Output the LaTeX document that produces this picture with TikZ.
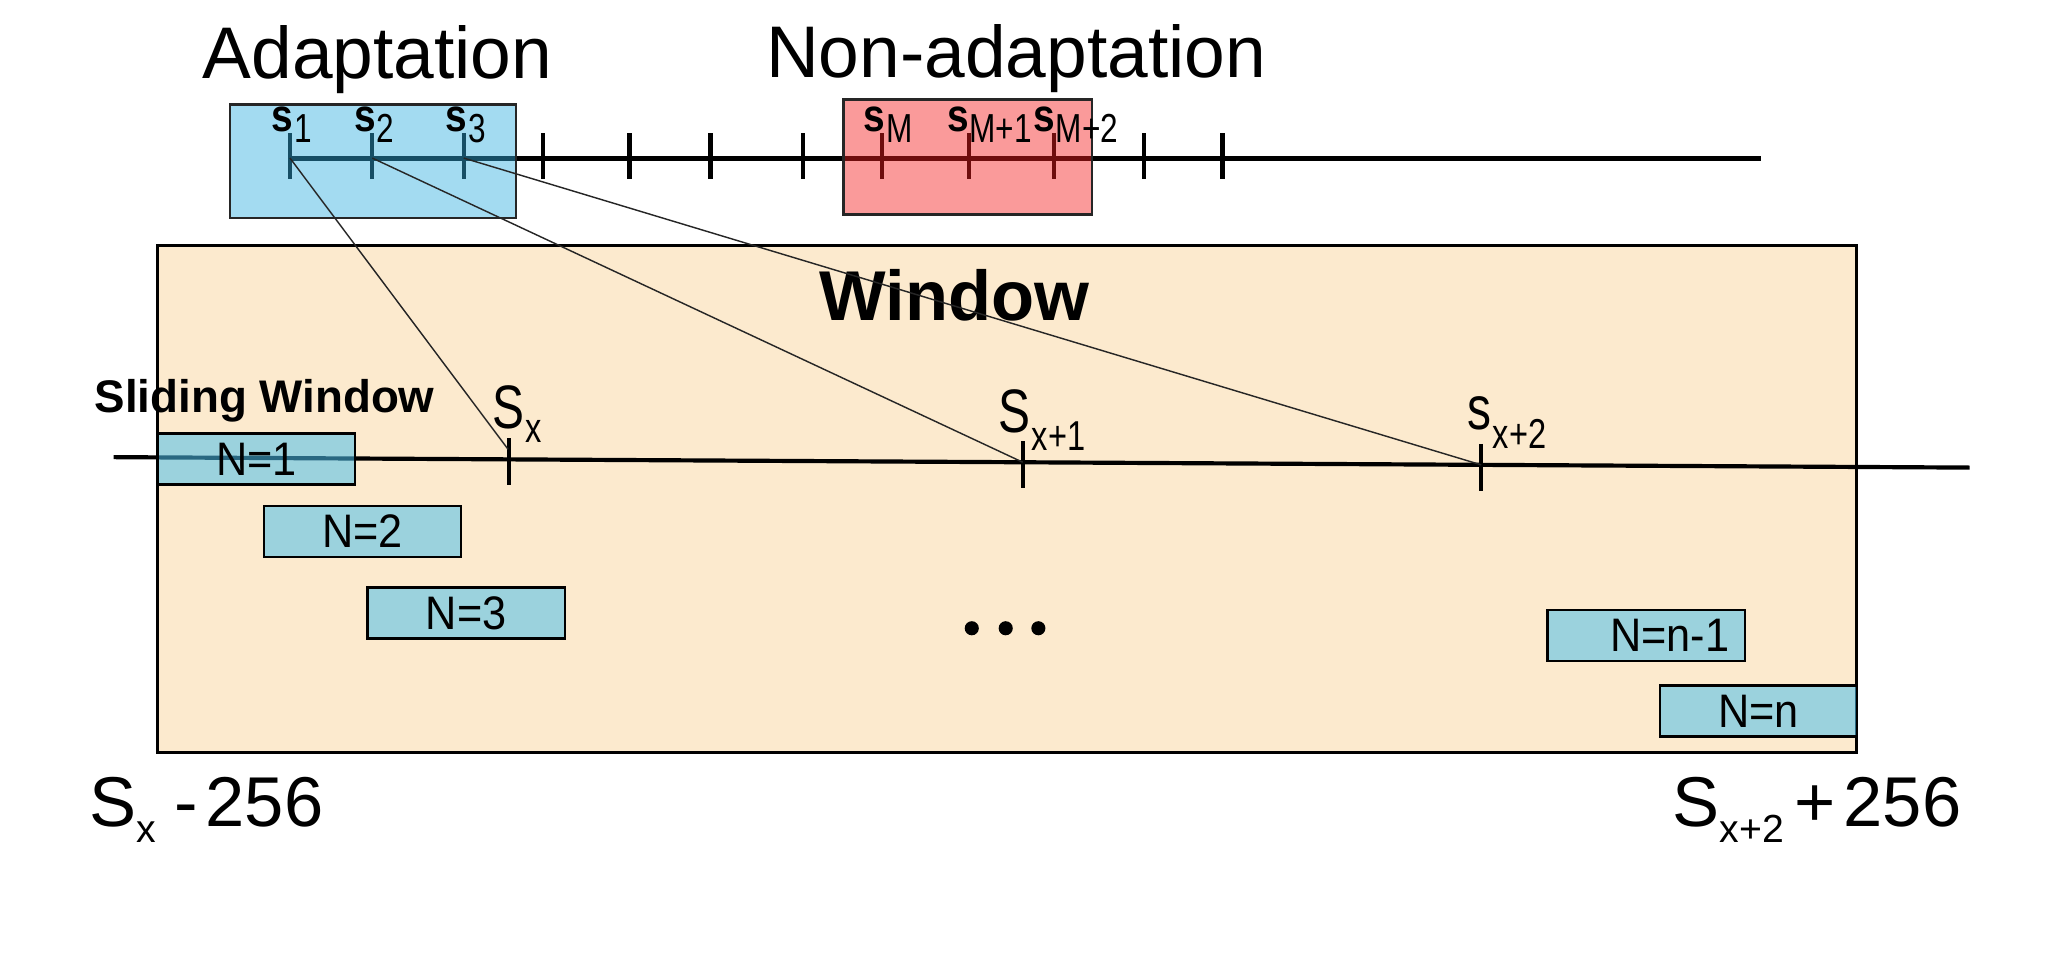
\documentclass[tikz,border=0pt]{standalone}
\usepackage{fontspec}
\setmainfont{Liberation Sans}
\newfontfamily\nar[FakeStretch=0.78]{Liberation Sans}
\newfontfamily\narS[FakeStretch=0.85]{Liberation Sans}
\newfontfamily\narN[FakeStretch=0.92]{Liberation Sans}
\definecolor{winfill}{RGB}{252,234,206}
\definecolor{adfill}{RGB}{50,175,225}
\definecolor{nafill}{RGB}{245,30,30}
\definecolor{nfill}{RGB}{76,191,235}
\begin{document}
\begin{tikzpicture}[x=0.5pt,y=-0.5pt,
  tl/.style={line width=1.9pt, line cap=butt},
  tk/.style={line width=1.6pt},
  conn/.style={line width=0.55pt, draw=black!85},
  nbox/.style={draw=black, line width=0.9pt, fill=nfill, fill opacity=0.55, text opacity=1,
    minimum width=75.5pt, minimum height=19.5pt, inner sep=0pt, anchor=north west,
    font=\narN\fontsize{18}{18}\selectfont},
  hbox/.style={draw=black!85, line width=1pt, fill opacity=0.45, inner sep=0pt, anchor=north west},
  slab/.style={anchor=base east, inner sep=0pt, font=\narS\bfseries\fontsize{17.5}{17.5}\selectfont},
  ssub/.style={anchor=base west, inner sep=0pt, font=\nar\fontsize{15.5}{15.5}\selectfont},
  Slab/.style={anchor=base, inner sep=0pt, font=\nar\fontsize{23.5}{23.5}\selectfont},
  Ssub/.style={anchor=base west, inner sep=0pt, font=\nar\fontsize{16}{16}\selectfont},
  title/.style={anchor=base, inner sep=0pt, font=\fontsize{28}{28}\selectfont}
]
\useasboundingbox (0,0) rectangle (1568,738);

% window
\node[draw=black, line width=1pt, fill=winfill, minimum width=650.5pt, minimum height=194pt,
  inner sep=0pt, anchor=north west] (win) at (119.5,187) {};
\node[anchor=base, inner sep=0pt, font=\bfseries\fontsize{27}{27}\selectfont] (wtitle) at (731,245) {Window};
\node[anchor=base west, inner sep=0pt, font=\bfseries\fontsize{17.5}{17.5}\selectfont] (slide) at (72,316) {Sliding Window};

% middle line
\coordinate (ml) at (87,350);
\coordinate (mr) at (1508,358);
\coordinate (x0) at (390,351.7);
\coordinate (x1) at (783,353.9);
\coordinate (x2) at (1134,355.9);
\draw[line width=1.6pt] (ml) -- (mr);
\foreach \c in {x0,x1,x2} \draw[tk] (\c) ++(0,-16) -- ++(0,36);

\node[Slab] (Sx0) at (389,328) {S};
\node[Ssub] (Sx0s) at (Sx0.base east) [yshift=-5.5pt] {x};
\node[Slab] (Sx1) at (777,331) {S};
\node[Ssub] (Sx1s) at (Sx1.base east) [yshift=-7pt] {x+1};
\node[Slab] (Sx2) at (1133,329) {s};
\node[Ssub] (Sx2s) at (Sx2.base east) [yshift=-7pt] {x+2};

% N boxes
\node[nbox] (n1) at (120,331) {N=1};
\node[nbox] (n2) at (201,386.5) {N=2};
\node[nbox] (n3) at (280.5,449) {N=3};
\node[nbox] (nn1) at (1184,466) {\hspace*{18pt}N=n-1};
\node[nbox] (nn) at (1270,524) {N=n};

\fill (744,481) circle (2.7pt);
\fill (770,481) circle (2.7pt);
\fill (795,481) circle (2.7pt);

% top line
\coordinate (tL) at (222,121);
\coordinate (tR) at (1348,121);
\draw[tl] (tL) -- (tR);
\coordinate (t1) at (222,121);
\coordinate (t2) at (285,121);
\coordinate (t3) at (355,121);
\foreach \x in {222,285,355,416,482,544,615,675,742,807,876,936}
  \draw[tk] (\x,102) -- (\x,137);

\node[hbox, fill=adfill, minimum width=109.5pt, minimum height=43.5pt] (adbox) at (175,79) {};
\node[hbox, fill=nafill, minimum width=95pt, minimum height=44pt] (nabox) at (645,75) {};

% small s labels
\node[slab] (s1) at (225,101) {s};
\node[ssub] (s1s) at (225,109) {1};
\node[slab] (s2) at (288,101) {s};
\node[ssub] (s2s) at (288,109) {2};
\node[slab] (s3) at (358,101) {s};
\node[ssub] (s3s) at (358,109) {3};
\node[slab] (sM) at (678,101) {s};
\node[ssub] (sMs) at (678,109) {M};
\node[slab] (sM1) at (742,101) {s};
\node[ssub] (sM1s) at (742,109) {M+1};
\node[slab] (sM2) at (808,101) {s};
\node[ssub] (sM2s) at (808,109) {M+2};

% connectors
\coordinate (c0) at (389,344);
\draw[conn] (t1) -- (c0);
\draw[conn] (t2) -- (x1);
\draw[conn] (t3) -- (x2);

% titles
\node[title] (adt) at (289,60) {Adaptation};
\node[title] (nat) at (778,59) {Non-adaptation};

% bottom labels
\node[anchor=base west, inner sep=0pt, font=\fontsize{27}{27}\selectfont] (bl) at (68,633)
  {S\raisebox{-6pt}{\fontsize{15}{15}\selectfont x}\hspace{7pt}-\hspace{3pt}256};
\node[anchor=base east, inner sep=0pt, font=\fontsize{27}{27}\selectfont] (br) at (1502,633)
  {S\raisebox{-6pt}{\fontsize{15}{15}\selectfont x+2}\hspace{4pt}+\hspace{3pt}256};
\end{tikzpicture}
\end{document}
